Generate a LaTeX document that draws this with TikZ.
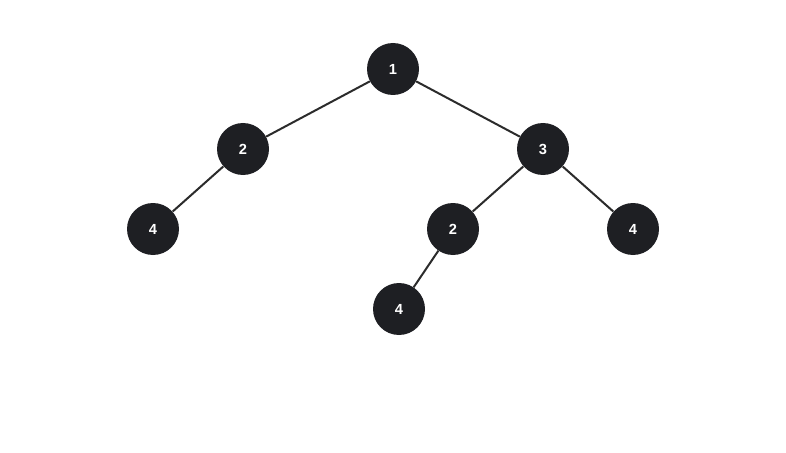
\documentclass[tikz,border=0pt]{standalone}
\usepackage{fontspec}
\setmainfont{Liberation Sans}
\definecolor{knotenfarbe}{HTML}{1E1F23}
\definecolor{kantenfarbe}{HTML}{2B2B2B}
\begin{document}
\begin{tikzpicture}[x=0.75pt, y=-0.75pt, font=\bfseries\fontsize{11}{13}\selectfont]
        \tikzset{
          knoten/.style={circle, fill=knotenfarbe, text=white, minimum size=39pt, inner sep=0pt},
          kante/.style={draw=kantenfarbe, line width=1.5pt}
        }
        % Rahmen
        \useasboundingbox (0,0) rectangle (786,453);

        % Knoten
        \node[knoten] (w)   at (393,69)  {1};
        \node[knoten] (l)   at (243,149) {2};
        \node[knoten] (r)   at (543,149) {3};
        \node[knoten] (ll)  at (153,229) {4};
        \node[knoten] (rl)  at (453,229) {2};
        \node[knoten] (rr)  at (633,229) {4};
        \node[knoten] (rll) at (399,309) {4};

        % Kanten
        \draw[kante] (w) -- (l);
        \draw[kante] (w) -- (r);
        \draw[kante] (l) -- (ll);
        \draw[kante] (r) -- (rl);
        \draw[kante] (r) -- (rr);
        \draw[kante] (rl) -- (rll);
    \end{tikzpicture}
\end{document}
